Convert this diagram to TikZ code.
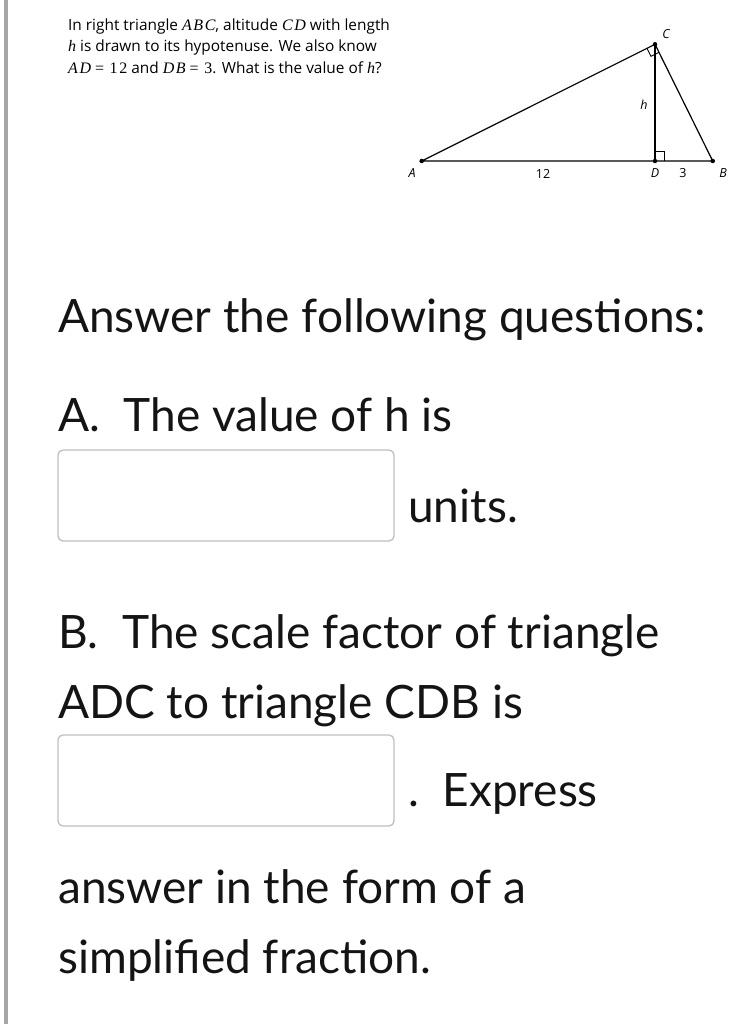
\documentclass[tikz,border=0pt]{standalone}
\usepackage{fontspec}
\setmainfont{Lato}
\newfontfamily\osans{Open Sans}
\newfontfamily\tnr[LetterSpace=10]{Liberation Serif}
\usetikzlibrary{calc}
\newcommand{\mi}[1]{{\tnr\itshape\fontsize{16}{16}\selectfont #1}}
\newcommand{\mr}[1]{{\tnr\fontsize{16}{16}\selectfont #1}}
\begin{document}
\begin{tikzpicture}[x=1pt,y=-1pt,
  small/.style={anchor=base west,inner sep=0,font=\osans\fontsize{15.4}{15.4}\selectfont},
  lbl/.style={inner sep=0,font=\osans\itshape\fontsize{12.5}{12.5}\selectfont},
  lblu/.style={inner sep=0,font=\osans\fontsize{12.5}{12.5}\selectfont},
  big/.style={anchor=base west,inner sep=0,font=\fontsize{46}{46}\selectfont,text=black!92},
  ansbox/.style={draw=black!25,line width=1.3pt,rounded corners=5pt},
  seg/.style={line width=1.2pt},
  dot/.style={circle,fill=black,inner sep=0,minimum size=4.5pt}]
\useasboundingbox (0,0) rectangle (734,1024);
\fill[white] (0,0) rectangle (734,1024);
\fill[black!35] (4,0) rectangle (7.5,1024);
% problem text
\node[small] (t1) at (68,30.5) {In right triangle \mi{ABC}, altitude \mi{CD} with length};
\node[small] (t2) at (68,52) {\mi{h} is drawn to its hypotenuse. We also know};
\node[small] (t3) at (68,73.5) {\mi{AD} \mr{= 12} and \mi{DB} \mr{= 3}. What is the value of \mi{h}?};
% triangle
\coordinate (A) at (421.7,161);
\coordinate (C) at (655,44.3);
\coordinate (D) at (655,161);
\coordinate (B) at (712.7,161);
\draw[seg] (A) -- (C) -- (B) -- cycle;
\draw[seg] (C) -- (D);
\coordinate (ca) at ($(C)!9pt!(A)$);
\coordinate (cb) at ($(C)!9pt!(B)$);
\draw[line width=0.9pt] (ca) -- ($(ca)+(cb)-(C)$) -- (cb);
\draw[line width=0.9pt] (655,151.5) -- (664.5,151.5) -- (664.5,161);
\node[dot] (dA) at (A) {};
\node[dot] (dB) at (B) {};
\node[dot] (dC) at (C) {};
\node[dot] (dD) at (D) {};
\node[lbl] (lA) at (412,173.5) {A};
\node[lblu] (l12) at (543,173.5) {12};
\node[lbl] (lD) at (655,173.5) {D};
\node[lblu] (l3) at (683,173.5) {3};
\node[lbl] (lB) at (723,173.5) {B};
\node[lbl] (lC) at (666,34) {C};
\node[lbl] (lh) at (644,105) {h};
% questions
\node[big] (q0) at (58,332) {Answer the following questions:};
\node[big] (qa) at (58,431) {A.\ \ The value of h is};
\draw[ansbox] (58,450) rectangle (394,541);
\node[big] (units) at (408,522) {units.};
\node[big] (qb1) at (58,648) {B.\ \ The scale factor of triangle};
\node[big] (qb2) at (58,718) {ADC to triangle CDB is};
\draw[ansbox] (58,735) rectangle (394,826);
\node[big] (expr) at (408,806) {.\ \ Express};
\node[big] (qb3) at (58,903) {answer in the form of a};
\node[big] (qb4) at (58,973) {simplified fraction.};
\end{tikzpicture}
\end{document}
